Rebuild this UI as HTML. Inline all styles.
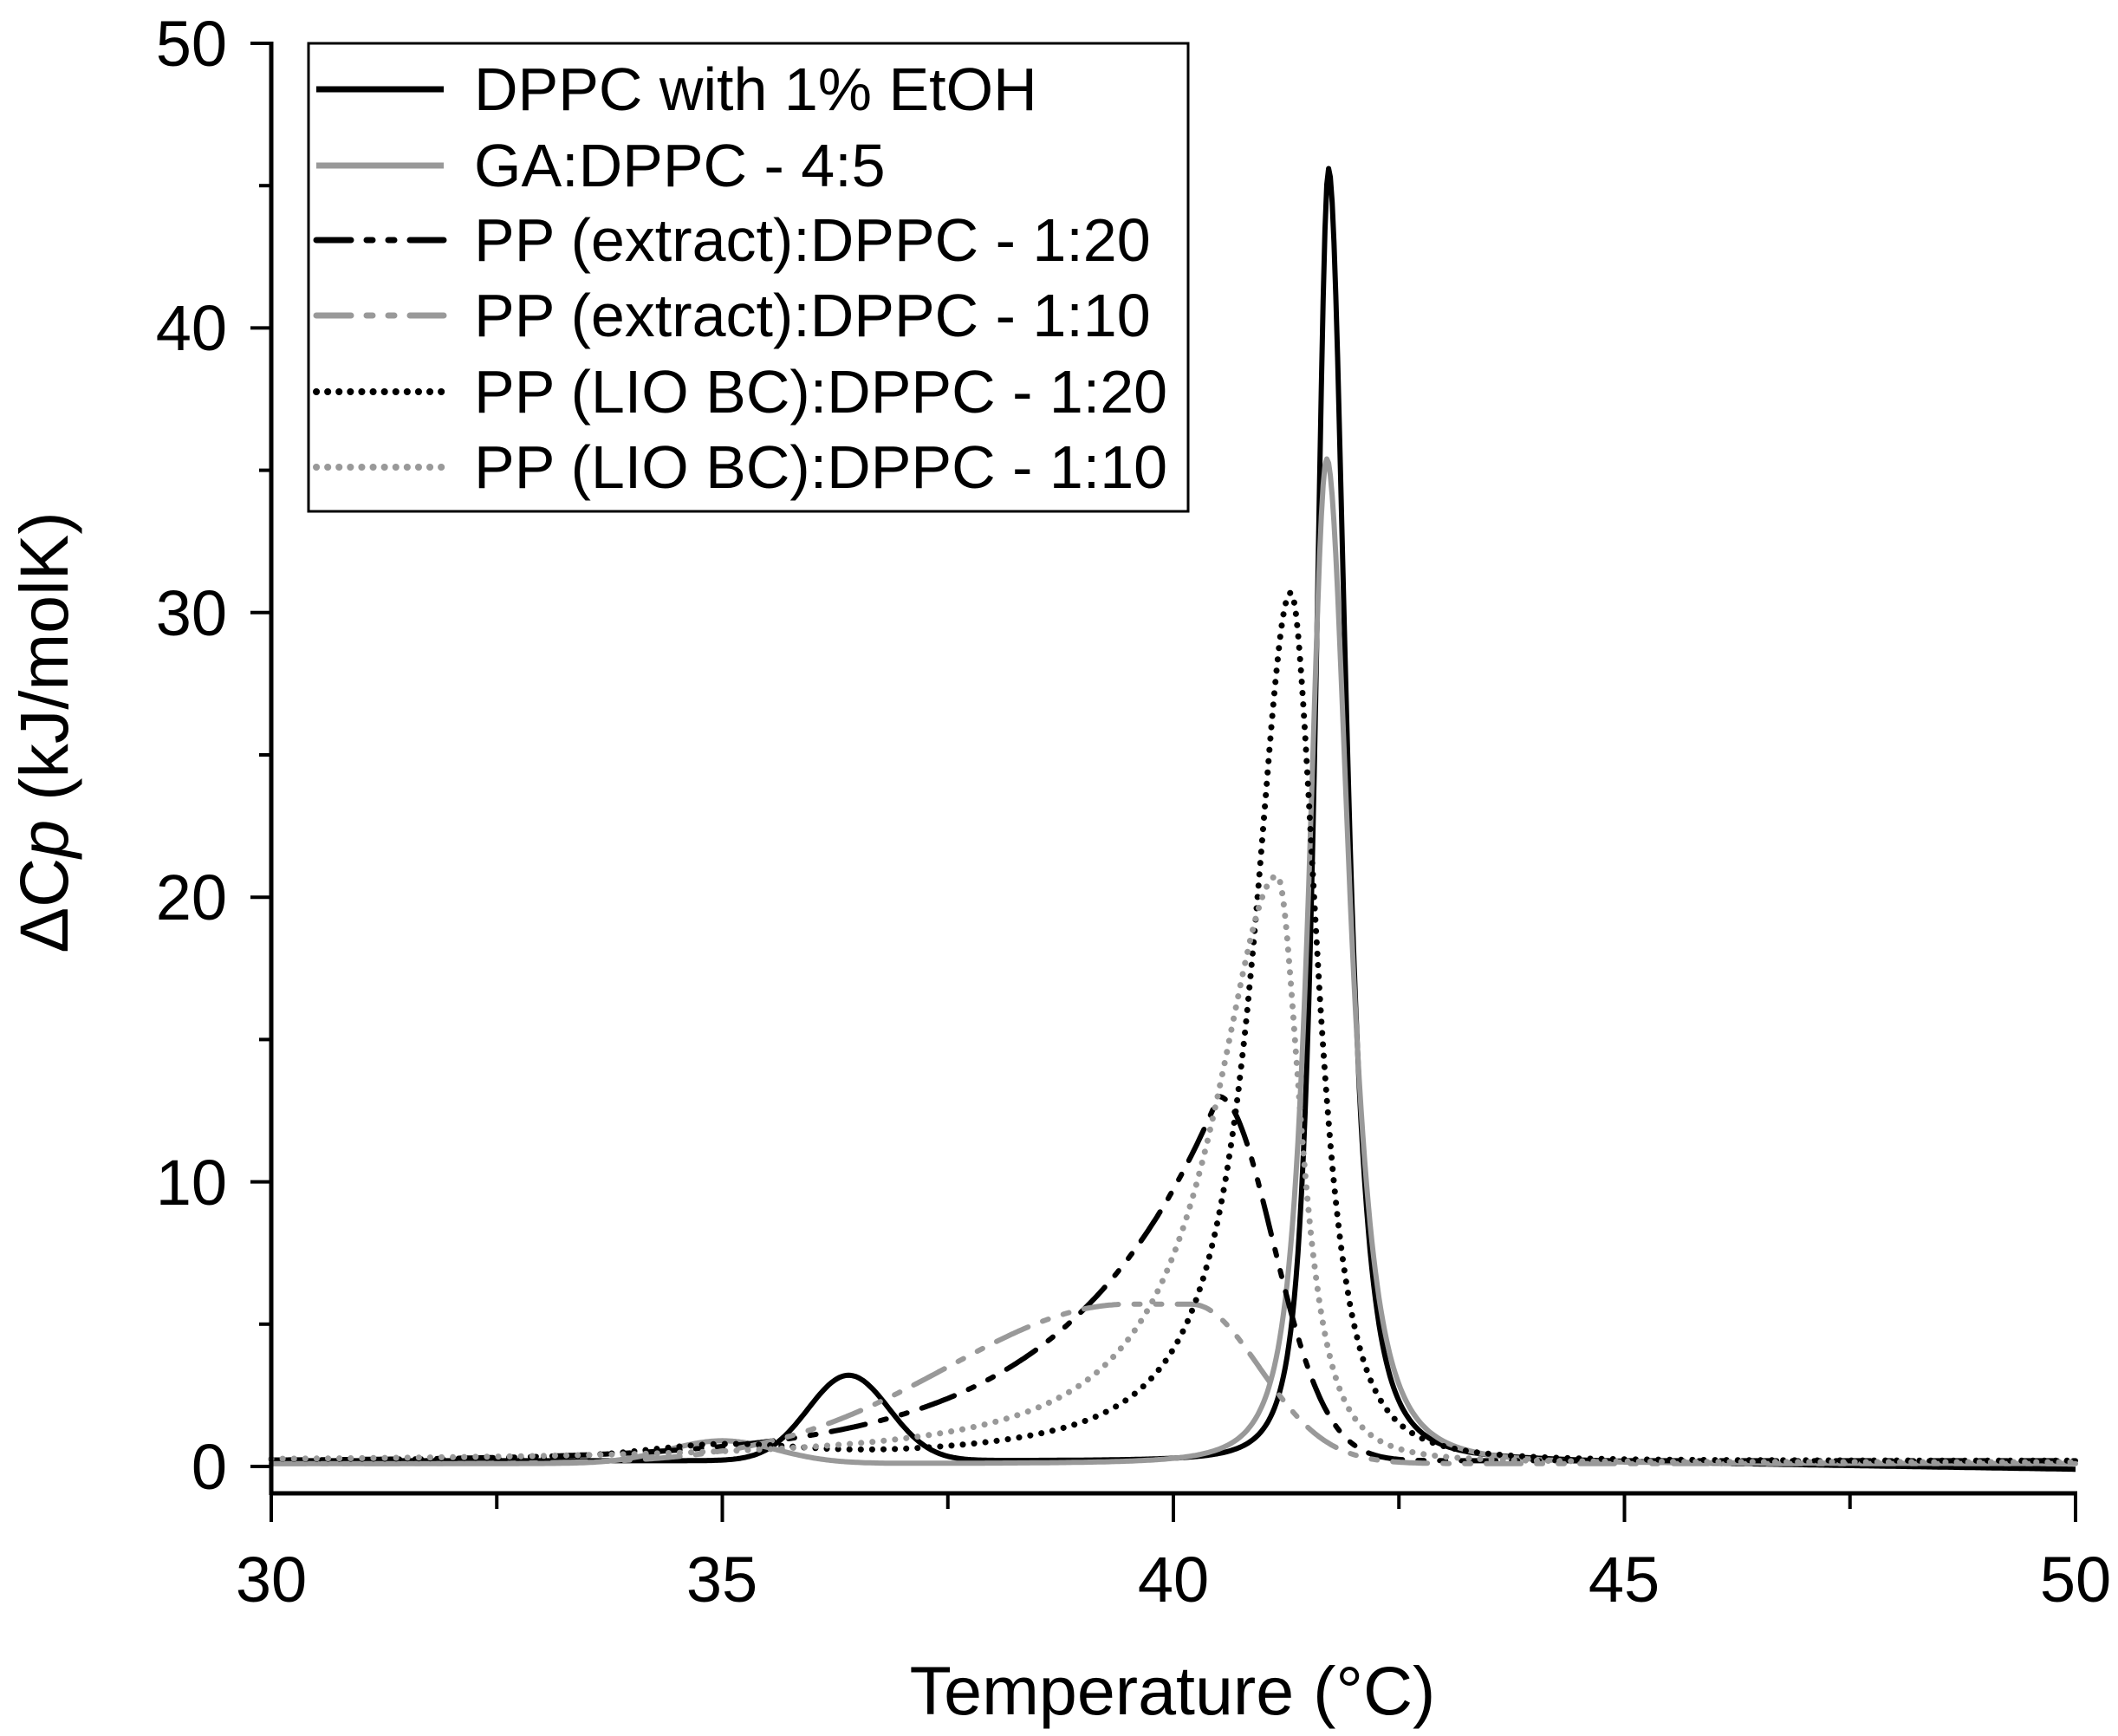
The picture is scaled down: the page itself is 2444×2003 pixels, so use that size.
<!DOCTYPE html>
<html><head><meta charset="utf-8"><style>
html,body{margin:0;padding:0;background:#fff;}
svg{display:block;font-family:"Liberation Sans",Arial,sans-serif;}
</style></head><body>
<svg id="s" width="2444" height="2003" viewBox="0 0 2444 2003" xmlns="http://www.w3.org/2000/svg">
<rect width="2444" height="2003" fill="#fff"/>
<g id="curves" fill="none" stroke-linejoin="round"></g>
<line x1="313" y1="48" x2="313" y2="1725" stroke="#000" stroke-width="5"/>
<line x1="311" y1="1723" x2="2397" y2="1723" stroke="#000" stroke-width="5"/>
<g id="ticks" stroke="#000" stroke-width="4"></g>
<g font-size="74" fill="#000" text-anchor="end">
<text x="262" y="1718">0</text>
<text x="262" y="1390">10</text>
<text x="262" y="1061">20</text>
<text x="262" y="733">30</text>
<text x="262" y="404">40</text>
<text x="262" y="76">50</text>
</g>
<g font-size="74" fill="#000" text-anchor="middle">
<text x="313" y="1848">30</text>
<text x="833" y="1848">35</text>
<text x="1354" y="1848">40</text>
<text x="1874" y="1848">45</text>
<text x="2395" y="1848">50</text>
<text x="1353" y="1978" font-size="79">Temperature (°C)</text>
</g>
<text transform="translate(78,845) rotate(-90)" font-size="79" text-anchor="middle">ΔC<tspan font-style="italic">p</tspan> (kJ/molK)</text>
<rect x="356" y="50" width="1015" height="540" fill="#fff" stroke="#000" stroke-width="3"/>
<g id="leg" fill="none"></g>
<g font-size="70" fill="#000">
<text x="547" y="127">DPPC with 1% EtOH</text>
<text x="547" y="215">GA:DPPC - 4:5</text>
<text x="547" y="301">PP (extract):DPPC - 1:20</text>
<text x="547" y="388">PP (extract):DPPC - 1:10</text>
<text x="547" y="476">PP (LIO BC):DPPC - 1:20</text>
<text x="547" y="563">PP (LIO BC):DPPC - 1:10</text>
</g>
</svg>
<script>
var NS="http://www.w3.org/2000/svg";
function X(t){return 313+(t-30)*104.1;}
function Y(v){return 1692-v*32.84;}
function g(t,c,s){return Math.exp(-Math.pow((t-c)/s,2)/2);}
function lor(t,c,wl,wr,p){var w=t<c?wl:wr;return 1/Math.pow(1+Math.pow((t-c)/w,2),p);}
var series=[
 {col:"#000",da:"",f:function(t){return 0.2-0.3*Math.max(0,(t-44))/6+3.0*g(t,36.4,0.45)+45.4*lor(t,41.72,0.22,0.3,1.5);}},
 {col:"#999",da:"",f:function(t){return 0.1+0.8*g(t,35,0.6)+35.3*lor(t,41.7,0.3,0.38,1.5);}},
 {col:"#000",da:"40 18 7 18 7 18",f:function(t){var v=t<40.5?12.8*Math.exp(-(40.5-t)/1.7):12.8*g(t,40.5,0.6);return 0.2+v;}},
 {col:"#999",da:"40 18 7 18 7 18",f:function(t){var v;if(t<39.5)v=5.6*g(t,39.5,2.0);else if(t<40.2)v=5.6;else v=5.6*g(t,40.2,0.75);return 0.1+v;}},
 {col:"#000",da:"0.1 13",f:function(t){return 0.2+0.4*g(t,35,0.8)+(t<41.3?30.5/(1+Math.pow((41.3-t)/0.5,2)):30.5*lor(t,41.3,0.45,0.45,1.5));}},
 {col:"#999",da:"0.1 13",f:function(t){return 0.15+(t<41.15?20.6/(1+Math.pow((41.15-t)/0.85,2)):20.6*lor(t,41.15,0.4,0.4,1.5));}}
];
var cg=document.getElementById("curves");
series.forEach(function(s){
 var d="";for(var t=30;t<=50.0001;t+=0.02){d+=(d?"L":"M")+X(t).toFixed(1)+" "+Y(s.f(t)).toFixed(1);}
 var p=document.createElementNS(NS,"path");p.setAttribute("d",d);p.setAttribute("stroke",s.col);
 p.setAttribute("stroke-width",s.da=="0.1 13"?"7":"6");if(s.da){p.setAttribute("stroke-dasharray",s.da);p.setAttribute("stroke-linecap","round");}
 cg.appendChild(p);
});
var lg=document.getElementById("leg");var ly=[103,191,277,364,452,539];
series.forEach(function(s,i){var l=document.createElementNS(NS,"line");
 l.setAttribute("x1",365);l.setAttribute("x2",512);l.setAttribute("y1",ly[i]);l.setAttribute("y2",ly[i]);
 l.setAttribute("stroke",s.col);l.setAttribute("stroke-width",s.da=="0.1 13"?"8":"7");
 if(s.da){l.setAttribute("stroke-dasharray",s.da);l.setAttribute("stroke-linecap","round");}lg.appendChild(l);});
var tk=document.getElementById("ticks");
function ln(a,b,c,d){var l=document.createElementNS(NS,"line");l.setAttribute("x1",a);l.setAttribute("y1",b);l.setAttribute("x2",c);l.setAttribute("y2",d);tk.appendChild(l);}
for(var v=0;v<=50;v+=5){ln(v%10==0?289:299,Y(v),313,Y(v));}
for(var t=30;t<=50;t+=2.5){ln(X(t),1723,X(t),t%5==0?1756:1741);}
</script>
</body></html>
